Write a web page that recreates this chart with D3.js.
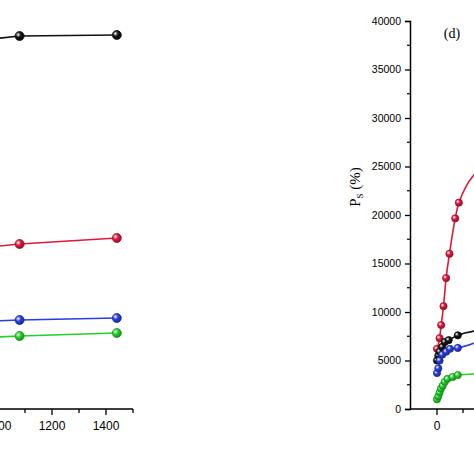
<!DOCTYPE html>
<html><head><meta charset="utf-8">
<script src="https://cdn.jsdelivr.net/npm/d3@7"></script>
<style>body{margin:0;background:#fff}</style>
</head><body>
<script>
// left panel (c) – only its right end is visible
var leftX = [720, 1080, 1440];
var leftBlack = [37400, 38450, 38560];
var leftRed = [16000, 17010, 17630];
var leftBlue = [8800, 9175, 9380];
var leftGreen = [7100, 7525, 7835];
var leftTicks = [1000, 1100, 1200, 1300, 1400, 1500];

// right panel (d)
var redX = [0, 10, 16, 25, 35, 48, 70, 84, 190];
var redY = [6200, 7300, 8650, 10600, 13500, 16000, 19650, 21270, 25200];
var blackX = [0, 5, 10, 20, 30, 45, 80, 190];
var blackY = [5000, 5500, 5900, 6400, 6900, 7100, 7600, 8200];
var blueX = [0, 5, 10, 20, 35, 50, 80, 190];
var blueY = [3700, 4200, 5000, 5600, 5900, 6200, 6300, 7300];
var greenX = [0, 5, 10, 15, 22, 30, 40, 60, 80, 190];
var greenY = [1000, 1300, 1700, 2100, 2400, 2800, 3100, 3300, 3500, 3650];
var yTicks = [0, 5000, 10000, 15000, 20000, 25000, 30000, 35000, 40000];

var colors = {black: "#111", red: "#e0183a", blue: "#2a3ee0", green: "#22d22a"};

var svg = d3.select("body").append("svg").attr("width", 474).attr("height", 474);
var defs = svg.append("defs");
Object.keys(colors).forEach(function(k){
	var g = defs.append("radialGradient").attr("id", "g_" + k).attr("cx", "35%").attr("cy", "35%").attr("r", "65%");
	g.append("stop").attr("offset", "0%").attr("stop-color", "#fff");
	g.append("stop").attr("offset", "45%").attr("stop-color", colors[k]);
	g.append("stop").attr("offset", "100%").attr("stop-color", d3.color(colors[k]).darker(1));
});

var y = d3.scaleLinear().domain([0, 40000]).range([409, 21]);

// ---- left panel
var xl = d3.scaleLinear().domain([1200, 1400]).range([52, 106]);
var lax = svg.append("g").attr("transform", "translate(0,409)");
lax.append("line").attr("x1", -5).attr("x2", xl(1500)).attr("stroke", "#000").attr("stroke-width", 1.5);
lax.selectAll("line.t").data(leftTicks).enter().append("line").attr("class", "t")
	.attr("x1", d => xl(d)).attr("x2", d => xl(d)).attr("y1", 0).attr("y2", d => d % 200 == 0 ? 6 : 4)
	.attr("stroke", "#000").attr("stroke-width", 1.3);
lax.selectAll("text").data(leftTicks.filter(d => d % 200 == 0)).enter().append("text")
	.attr("x", d => xl(d)).attr("y", 21).attr("text-anchor", "middle")
	.attr("font-family", "Liberation Sans, Arial").attr("font-size", 12).text(d => d);

function drawSeries(xs, ys, xsc, key, r, curve){
	var pts = xs.map((d, i) => [xsc(d), y(ys[i])]);
	svg.append("path").attr("d", d3.line().curve(curve)(pts)).attr("fill", "none")
		.attr("stroke", colors[key]).attr("stroke-width", 1.6);
	svg.selectAll(null).data(pts).enter().append("circle")
		.attr("cx", d => d[0]).attr("cy", d => d[1]).attr("r", r)
		.attr("fill", "url(#g_" + key + ")").attr("stroke", d3.color(colors[key]).darker(1)).attr("stroke-width", 0.8);
}
drawSeries(leftX, leftBlack, xl, "black", 4.5, d3.curveLinear);
drawSeries(leftX, leftRed, xl, "red", 4.5, d3.curveLinear);
drawSeries(leftX, leftBlue, xl, "blue", 4.5, d3.curveLinear);
drawSeries(leftX, leftGreen, xl, "green", 4.5, d3.curveLinear);

// ---- right panel
var xr = d3.scaleLinear().domain([0, 100]).range([437, 463]);
var yAxis = d3.axisLeft(y).tickValues(yTicks).tickSize(5).tickFormat(d => d);
var gy = svg.append("g").attr("transform", "translate(410,0)").call(yAxis);
gy.selectAll(".tick line").attr("stroke-width", 1.3);
gy.select(".domain").attr("stroke-width", 1.5);
gy.selectAll("text").attr("font-family", "Liberation Sans, Arial").attr("font-size", 10.5).attr("dx", -1);
gy.selectAll("line.m").data(d3.range(2500, 40000, 5000)).enter().append("line").attr("class", "m")
	.attr("x1", -3).attr("x2", 0).attr("y1", d => y(d)).attr("y2", d => y(d)).attr("stroke", "#000").attr("stroke-width", 1.2);

var gx = svg.append("g").attr("transform", "translate(0,409)");
gx.append("line").attr("x1", 410).attr("x2", 474).attr("stroke", "#000").attr("stroke-width", 1.5);
gx.selectAll("line.t").data([0, 100, 200]).enter().append("line").attr("class", "t")
	.attr("x1", d => xr(d)).attr("x2", d => xr(d)).attr("y1", 0).attr("y2", d => d % 200 == 0 ? 6 : 4)
	.attr("stroke", "#000").attr("stroke-width", 1.3);
gx.append("text").attr("x", xr(0)).attr("y", 21).attr("text-anchor", "middle")
	.attr("font-family", "Liberation Sans, Arial").attr("font-size", 12).text("0");

drawSeries(redX, redY, xr, "red", 3.6, d3.curveMonotoneX);
drawSeries(blackX, blackY, xr, "black", 3.6, d3.curveMonotoneX);
drawSeries(blueX, blueY, xr, "blue", 3.6, d3.curveMonotoneX);
drawSeries(greenX, greenY, xr, "green", 3.6, d3.curveMonotoneX);

svg.append("text").attr("x", 452).attr("y", 38).attr("text-anchor", "middle")
	.attr("font-family", "Liberation Serif, serif").attr("font-size", 14).text("(d)");
var lab = svg.append("text").attr("transform", "translate(360,187) rotate(-90)").attr("text-anchor", "middle")
	.attr("font-family", "Liberation Serif, serif").attr("font-size", 15);
lab.append("tspan").text("P");
lab.append("tspan").attr("font-size", 9).attr("dy", 3).text("S");
lab.append("tspan").attr("dy", -3).text(" (%)");
</script>
</body></html>
